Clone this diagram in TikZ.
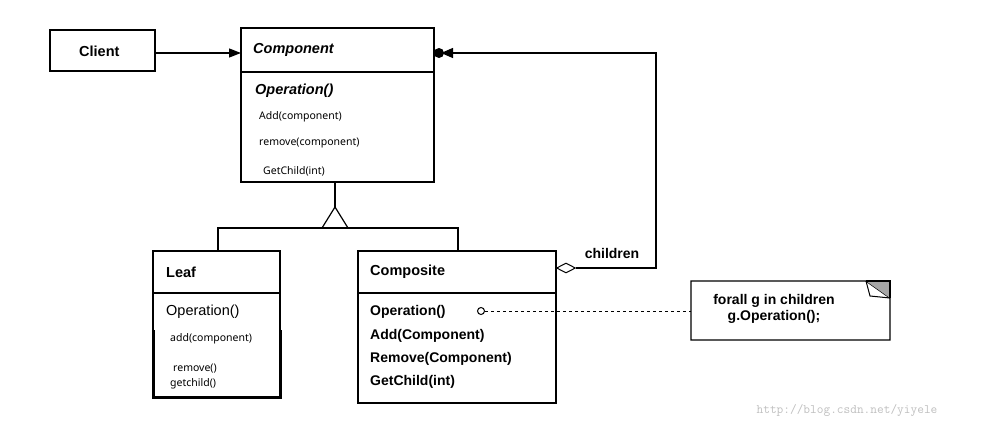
\documentclass[tikz,border=0pt]{standalone}
\usepackage{fontspec}
\setmainfont{Liberation Sans}
\newfontfamily\smallf{Noto Sans}
\usetikzlibrary{arrows.meta,shapes.geometric}
\begin{document}
\begin{tikzpicture}[x=1pt,y=-1pt,
  box/.style={draw,line width=1.3pt},
  t/.style={anchor=west,inner sep=0pt,font=\bfseries\fontsize{14.5}{14.5}\selectfont},
  r/.style={anchor=west,inner sep=0pt,font=\bfseries\fontsize{14}{14}\selectfont},
  s/.style={anchor=west,inner sep=0pt,font=\smallf\fontsize{10.5}{10.5}\selectfont},
  ln/.style={line width=1.3pt}]
\useasboundingbox (0,0) rectangle (991,431);
% Client
\node[box,minimum width=105pt,minimum height=41pt] (client) at (102.5,50.5) {};
\coordinate (clientR) at (155,53);
\node[t] (clientt) at (79,51) {Client};
% Component
\draw[box] (241,28) rectangle (434,182);
\coordinate (compL) at (241,53);
\coordinate (compR) at (434,53);
\coordinate (compB) at (335,182);
\draw[ln] (241,72) -- (434,72);
\node[t,font=\bfseries\itshape\fontsize{14.5}{14.5}\selectfont] (compt) at (253,50) {Component};
\node[t,font=\bfseries\itshape\fontsize{14.5}{14.5}\selectfont] (compop) at (255,91) {Operation()};
\node[s] (c1) at (259,117) {Add(component)};
\node[s] (c2) at (259,143) {remove(component)};
\node[s] (c3) at (263,171) {GetChild(int)};
% Leaf
\draw[box] (153,251) rectangle (280,397);
\draw[line width=3pt] (153,330) -- (153,397) -- (280,397) -- (280,330);
\draw[ln] (153,293) -- (280,293);
\coordinate (leafT) at (218,251);
\node[t] (leaft) at (166,272) {Leaf};
\node[t,font=\fontsize{14.5}{14.5}\selectfont] (leafop) at (166,312) {Operation()};
\node[s] (l1) at (170,339) {add(component)};
\node[s] (l2) at (173,369) {remove()};
\node[s] (l3) at (170,384) {getchild()};
% Composite
\draw[box] (358,251) rectangle (556,403);
\draw[ln] (358,293) -- (556,293);
\coordinate (compoT) at (458,251);
\coordinate (compoR) at (556,268);
\node[t] (compot) at (370,272) {Composite};
\node[r] (o1) at (370,312) {Operation()};
\node[r] (o2) at (370,336) {Add(Component)};
\node[r] (o3) at (370,359) {Remove(Component)};
\node[r] (o4) at (370,382) {GetChild(int)};
% Note
\draw[box] (691,281) -- (866,281) -- (890,298) -- (890,340) -- (691,340) -- cycle;
\fill[gray!70] (866,281) -- (890,281) -- (890,298) -- cycle;
\draw[line width=1pt] (866,281) -- (870,296) -- (890,298);
\draw[line width=1.3pt] (866,281) -- (890,281) -- (890,298);
\coordinate (noteL) at (691,311);
\node[align=center,inner sep=0pt,font=\bfseries\fontsize{14}{16}\selectfont] (note) at (774,309) {forall g in children\\g.Operation();};
% generalization
\coordinate (apex) at (335,207);
\draw[ln] (compB) -- (apex);
\draw[line width=1.2pt] (apex) -- (322,228) -- (348,228) -- cycle;
\draw[ln] (leafT) -- (218,228) -- (458,228) -- (compoT);
% client arrow
\draw[ln,-{Triangle[length=12pt,width=9pt]}] (clientR) -- (compL);
% aggregation
\node[draw,diamond,line width=1pt,fill=white,minimum width=19pt,minimum height=10pt,inner sep=0pt,anchor=west] (dia) at (compoR) {};
\draw[ln,-{Triangle[length=12pt,width=10pt]}] (dia.east) -- (656,268) -- (656,53) -- ([xshift=7pt]compR);
\fill (439,53) circle (5pt);
\node[font=\bfseries\fontsize{14}{14}\selectfont,inner sep=0pt] (child) at (612,253) {children};
% dashed
\node[draw,circle,line width=1pt,inner sep=0pt,minimum size=7pt] (circ) at (481,311) {};
\draw[line width=1pt,dashed] (circ) -- (noteL);
\node[text=gray!50,font=\ttfamily\fontsize{13}{13}\selectfont,inner sep=0pt] (wm) at (847,410) {http://blog.csdn.net/yiyele};
\end{tikzpicture}
\end{document}
